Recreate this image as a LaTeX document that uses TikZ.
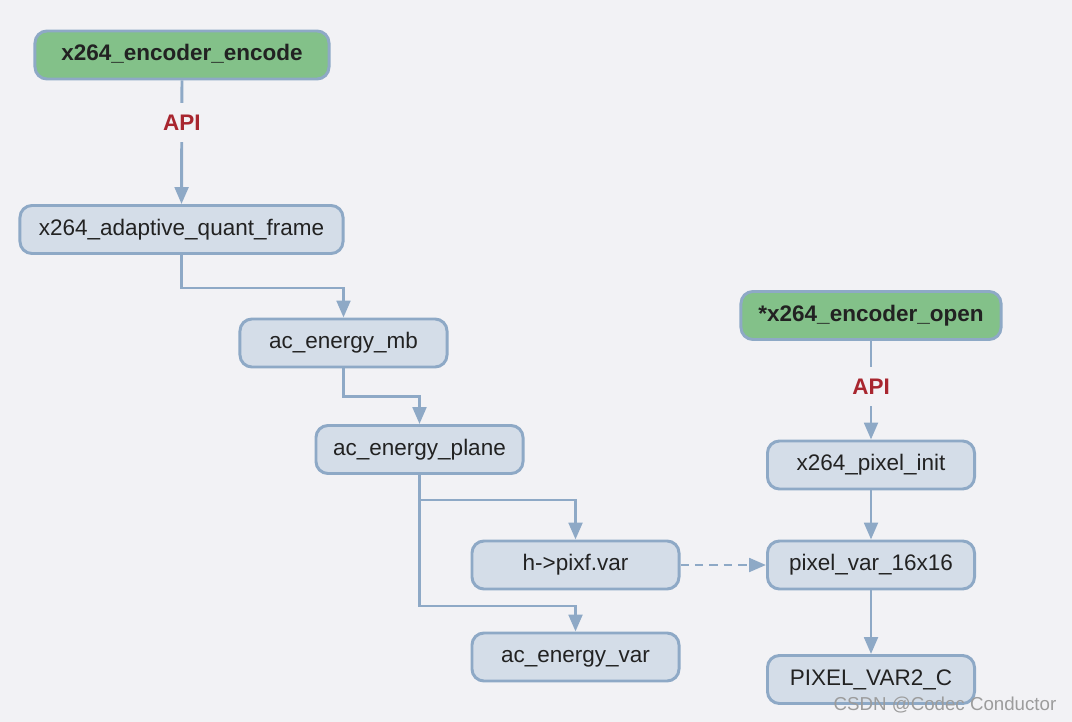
\documentclass[tikz,border=0pt]{standalone}
\usepackage{fontspec}
\setmainfont{Liberation Sans}
\usetikzlibrary{arrows.meta}

\definecolor{bgcol}{HTML}{F2F2F5}
\definecolor{boxfill}{HTML}{D4DDE8}
\definecolor{boxline}{HTML}{8EA9C6}
\definecolor{greenfill}{HTML}{83C189}
\definecolor{apired}{HTML}{A8262F}
\definecolor{txt}{HTML}{222222}
\definecolor{markgray}{HTML}{9C9C9C}

\begin{document}
\begin{tikzpicture}[x=0.025cm, y=-0.025cm,
    fn/.style={draw=boxline, line width=2.1pt, fill=boxfill, rounded corners=0.3cm,
        minimum width=5.175cm, minimum height=1.2cm, text=txt,
        text height=0.8em, text depth=0em,
        font=\fontsize{16}{19}\selectfont},
    entry/.style={fn, fill=greenfill, font=\fontsize{16}{19}\selectfont\bfseries},
    link/.style={draw=boxline, line width=2.1pt, -{Triangle[length=0.42cm, width=0.34cm]}},
    apilabel/.style={fill=bgcol, text=apired, inner xsep=2pt, inner ysep=8.5pt,
        font=\fontsize{16}{19}\selectfont\bfseries}]

    % Background
    \fill[bgcol] (0,0) rectangle (1072,722);
    \useasboundingbox (0,0) rectangle (1072,722);

    % Left call chain
    \node[entry, minimum width=7.35cm] (enc) at (182,55) {x264\_encoder\_encode};
    \node[fn, minimum width=8.075cm] (aqf) at (181.5,229.5) {x264\_adaptive\_quant\_frame};
    \node[fn] (mb) at (343.5,343) {ac\_energy\_mb};
    \node[fn] (plane) at (419.5,449.5) {ac\_energy\_plane};
    \node[fn] (pixf) at (575.5,565) {h->pixf.var};
    \node[fn] (var) at (575.5,657) {ac\_energy\_var};

    % Right call chain
    \node[entry, minimum width=6.5cm] (open) at (871,315.5) {*x264\_encoder\_open};
    \node[fn] (init) at (871,465) {x264\_pixel\_init};
    \node[fn] (p16) at (871,565) {pixel\_var\_16x16};
    \node[fn] (var2) at (871,679.5) {PIXEL\_VAR2\_C};

    % Left edges
    \draw[link] (enc.south) -- node[apilabel, pos=0.34] (api1) {API} (aqf.north);
    \draw[link] (aqf.south) -- ++(0,33) -| (mb.north);
    \draw[link] (mb.south) -- ++(0,28) -| (plane.north);
    \draw[link] (plane.south) -- ++(0,25) -| (pixf.north);
    \draw[link] (plane.south) -- ++(0,131) -| (var.north);

    % Right edges
    \draw[link] (open.south) -- node[apilabel, pos=0.465] (api2) {API} (init.north);
    \draw[link] (init.south) -- (p16.north);
    \draw[link] (p16.south) -- (var2.north);

    % Function pointer
    \draw[link, dash pattern=on 0.21cm off 0.15cm] (pixf.east) -- (p16.west);

    % Watermark
    \node[text=markgray, font=\fontsize{13.3}{16}\selectfont] (mark) at (945,705) {CSDN @Codec Conductor};
\end{tikzpicture}
\end{document}
